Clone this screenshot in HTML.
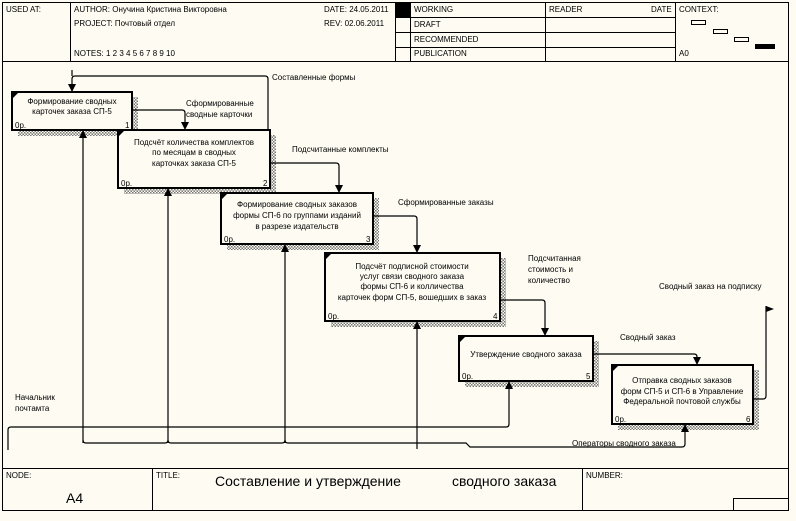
<!DOCTYPE html>
<html><head><meta charset="utf-8"><style>
body{margin:0;background:#fff;}
svg{display:block;font-family:"Liberation Sans",sans-serif;}
</style></head><body>
<svg width="796" height="521" viewBox="0 0 796 521" xmlns="http://www.w3.org/2000/svg">
<defs>
<pattern id="h" width="3" height="3" patternUnits="userSpaceOnUse">
<rect width="3" height="3" fill="#fdfbf2"/><rect width="1.5" height="1.5" fill="#777"/><rect x="1.5" y="1.5" width="1.5" height="1.5" fill="#777"/>
</pattern>
<marker id="a" markerWidth="8" markerHeight="8" refX="7" refY="4" orient="auto" markerUnits="userSpaceOnUse"><path d="M0,0 L8,4 L0,8 z" fill="#000"/></marker>
</defs>
<rect width="796" height="521" fill="#fdfbf2"/>
<g stroke="#000" fill="none" stroke-width="1">
<rect x="2.5" y="2.5" width="786" height="508"/>
<line x1="2" y1="61.5" x2="789" y2="61.5"/>
<line x1="70.5" y1="2" x2="70.5" y2="61"/>
<line x1="395.5" y1="2" x2="395.5" y2="61"/>
<line x1="410.5" y1="2" x2="410.5" y2="61"/>
<line x1="545.5" y1="2" x2="545.5" y2="61"/>
<line x1="675.5" y1="2" x2="675.5" y2="61"/>
<line x1="395" y1="17.5" x2="675" y2="17.5"/>
<line x1="395" y1="32.5" x2="675" y2="32.5"/>
<line x1="395" y1="47.5" x2="675" y2="47.5"/>
<line x1="2" y1="468.5" x2="789" y2="468.5"/>
<line x1="152.5" y1="468" x2="152.5" y2="510"/>
<line x1="582.5" y1="468" x2="582.5" y2="510"/>
<polyline points="733.5,510 733.5,498.5 789,498.5"/>
</g>
<rect x="396" y="3" width="14" height="14" fill="#000"/>
<g fill="none" stroke="#000">
<rect x="691.5" y="20.5" width="14" height="4"/>
<rect x="713.5" y="29.5" width="14" height="4"/>
<rect x="734.5" y="37.5" width="14" height="4"/>
</g>
<rect x="755" y="44" width="20" height="5" fill="#000"/>
<g font-size="8" fill="#000">
<text x="6" y="12">USED AT:</text>
<text x="74" y="12">AUTHOR:  Онучина Кристина Викторовна</text>
<text x="74" y="26">PROJECT:  Почтовый отдел</text>
<text x="74" y="56">NOTES:  1  2  3  4  5  6  7  8  9  10</text>
<text x="324" y="12">DATE:  24.05.2011</text>
<text x="324" y="26">REV:    02.06.2011</text>
<text x="414" y="12">WORKING</text>
<text x="414" y="27">DRAFT</text>
<text x="414" y="42">RECOMMENDED</text>
<text x="414" y="56">PUBLICATION</text>
<text x="549" y="12">READER</text>
<text x="651" y="12">DATE</text>
<text x="679" y="12">CONTEXT:</text>
<text x="679" y="56">A0</text>
<text x="6" y="478">NODE:</text>
<text x="156" y="478">TITLE:</text>
<text x="586" y="478">NUMBER:</text>
</g>
<text x="66" y="503" font-size="14">A4</text>
<text x="215" y="486" font-size="14">Составление и утверждение</text>
<text x="452" y="486" font-size="14">сводного заказа</text>

<g fill="url(#h)">
<rect x="132" y="97" width="6" height="39"/><rect x="18" y="130" width="120" height="6"/>
<rect x="270" y="135" width="6" height="59"/><rect x="124" y="188" width="152" height="6"/>
<rect x="373" y="198" width="6" height="52"/><rect x="227" y="244" width="152" height="6"/>
<rect x="500" y="258" width="6" height="69"/><rect x="331" y="321" width="175" height="6"/>
<rect x="593" y="341" width="6" height="46"/><rect x="465" y="381" width="134" height="6"/>
<rect x="753" y="370" width="6" height="60"/><rect x="618" y="424" width="141" height="6"/>
</g>
<g fill="#fdfbf2" stroke="#000" stroke-width="2">
<rect x="12" y="92" width="120" height="38"/>
<rect x="118" y="130" width="152" height="58"/>
<rect x="221" y="193" width="152" height="51"/>
<rect x="325" y="253" width="175" height="68"/>
<rect x="459" y="336" width="134" height="45"/>
<rect x="612" y="365" width="141" height="59"/>
</g>
<g fill="#000">
<path d="M13,93 h5 l-5,5z"/><path d="M119,131 h5 l-5,5z"/><path d="M222,194 h5 l-5,5z"/>
<path d="M326,254 h5 l-5,5z"/><path d="M460,337 h5 l-5,5z"/><path d="M613,366 h5 l-5,5z"/>
</g>
<g font-size="8" fill="#000" text-anchor="middle">
<text x="72" y="104">Формирование сводных</text><text x="72" y="114">карточек заказа СП-5</text>
<text x="194" y="145">Подсчёт количества комплектов</text><text x="194" y="155">по месяцам в сводных</text><text x="194" y="166">карточках заказа СП-5</text>
<text x="297" y="207">Формирование сводных заказов</text><text x="297" y="218">формы СП-6 по группами изданий</text><text x="297" y="229">в разрезе издательств</text>
<text x="412" y="269">Подсчёт подписной стоимости</text><text x="412" y="279">услуг связи сводного заказа</text><text x="412" y="289">формы СП-6 и колличества</text><text x="412" y="300">карточек форм СП-5, вошедших в заказ</text>
<text x="526" y="357">Утверждение сводного заказа</text>
<text x="682" y="383">Отправка сводных заказов</text><text x="682" y="394">форм СП-5 и СП-6 в Управление</text><text x="682" y="404">Федеральной почтовой службы</text>
</g>
<g font-size="8" fill="#000">
<text x="15" y="128">0р.</text><text x="125" y="128">1</text>
<text x="121" y="186">0р.</text><text x="263" y="186">2</text>
<text x="224" y="242">0р.</text><text x="366" y="242">3</text>
<text x="328" y="319">0р.</text><text x="493" y="319">4</text>
<text x="462" y="379">0р.</text><text x="586" y="379">5</text>
<text x="615" y="422">0р.</text><text x="746" y="422">6</text>
</g>
<g fill="none" stroke="#000" stroke-width="1.2">
<path d="M268,129 V79 q0,-3 -3,-3 H75 q-3,0 -3,3 V91" marker-end="url(#a)"/>
<path d="M72,70 V76"/>
<path d="M132,110 H182 q3,0 3,3 V129" marker-end="url(#a)"/>
<path d="M270,163 H336 q3,0 3,3 V192" marker-end="url(#a)"/>
<path d="M373,216 H414 q3,0 3,3 V252" marker-end="url(#a)"/>
<path d="M500,300 H542 q3,0 3,3 V335" marker-end="url(#a)"/>
<path d="M593,354 H694 q3,0 3,3 V364" marker-end="url(#a)"/>
<path d="M753,399 H763 q3,0 3,-3 V306"/>
<path d="M8,450 V430 q0,-3 3,-3 H506 q3,0 3,-3 V382" marker-end="url(#a)"/>
<path d="M83,443 V131" marker-end="url(#a)"/>
<path d="M168,443 V189" marker-end="url(#a)"/>
<path d="M285,443 V245" marker-end="url(#a)"/>
<path d="M417,449 V322" marker-end="url(#a)"/>
<path d="M83,440 q0,3 3,3 H165 q3,0 3,-3 M168,440 q0,3 3,3 H282 q3,0 3,-3 M285,440 q0,3 3,3 H466 l4,4 h212 q3,0 3,-3 V425" marker-end="url(#a)"/>
</g>
<path d="M766,306 l8,3 -8,3z" fill="#000"/>
<g font-size="8" fill="#000">
<text x="272" y="80">Составленные формы</text>
<text x="186" y="106">Сформированные</text><text x="186" y="117">сводные карточки</text>
<text x="292" y="152">Подсчитанные комплекты</text>
<text x="398" y="205">Сформированные заказы</text>
<text x="528" y="261">Подсчитанная</text><text x="528" y="272">стоимость и</text><text x="528" y="283">количество</text>
<text x="659" y="289">Сводный заказ на подписку</text>
<text x="620" y="340">Сводный заказ</text>
<text x="15" y="400">Начальник</text><text x="15" y="411">почтамта</text>
<text x="572" y="446">Операторы сводного заказа</text>
</g>
</svg>
</body></html>
